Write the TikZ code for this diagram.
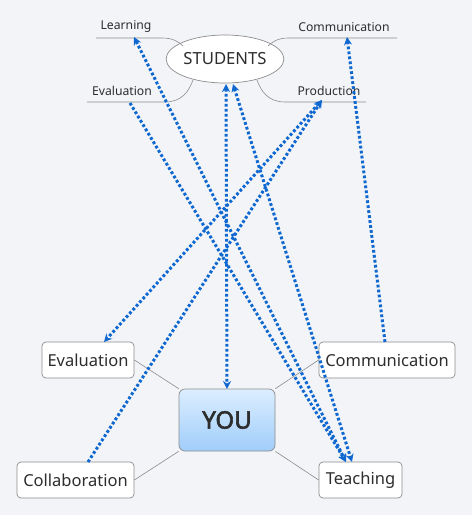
\documentclass[tikz,border=0pt]{standalone}
\usepackage{fontspec}
\setmainfont{Noto Sans}
\newfontfamily\youfont{Noto Sans}[FakeBold=2.4]
\usetikzlibrary{shapes.geometric,arrows.meta}
\definecolor{bg}{RGB}{242,244,248}
\definecolor{rel}{RGB}{14,104,208}
\definecolor{edge}{RGB}{140,140,140}
\definecolor{txt}{RGB}{45,45,45}
\definecolor{youtop}{RGB}{220,238,255}
\definecolor{youbot}{RGB}{160,205,250}
\tikzset{
  topic/.style={draw=edge, line width=0.7pt, fill=white, rounded corners=4pt, minimum height=36pt, inner sep=0pt, text=txt, font=\fontsize{16.5}{19}\selectfont},
  branch/.style={draw=edge, line width=0.6pt},
  lbl/.style={text=txt, font=\fontsize{12.2}{14}\selectfont, inner sep=0pt},
  relation/.style={draw=rel, line width=3pt, dash pattern=on 2.8pt off 2.2pt},
}
\begin{document}
\begin{tikzpicture}[x=1pt,y=-1pt]
\fill[bg] (0,0) rectangle (472,515);
\useasboundingbox (0,0) rectangle (472,515);

% central and main topics
\node[ellipse, draw=edge, line width=0.7pt, fill=white, minimum width=98pt, minimum height=48pt, inner sep=0pt, text=txt, font=\fontsize{16.7}{19}\selectfont] (stu) at (225,59) {STUDENTS};
\node[draw=edge, line width=0.7pt, rounded corners=6pt, top color=youtop, bottom color=youbot, minimum width=96pt, minimum height=62pt, inner sep=0pt, text=txt, font=\youfont\fontsize{24}{28}\selectfont] (you) at (227,420) {YOU};
\node[topic, minimum width=92pt] (eval) at (88,360) {Evaluation};
\node[topic, minimum width=136pt] (comm) at (387,360) {Communication};
\node[topic, minimum width=117pt] (coll) at (75.5,480) {Collaboration};
\node[topic, minimum width=83pt] (teach) at (360.5,480) {Teaching};

% gray connectors
\draw[branch] (eval.east) -- (you.north west);
\draw[branch] (comm.west) -- (you.north east);
\draw[branch] (coll.east) -- (you.south west);
\draw[branch] (teach.west) -- (you.south east);

% STUDENTS subtopics
\node[lbl] (learn) at (126,26) {Learning};
\node[lbl] (scomm) at (344,27) {Communication};
\node[lbl] (seval) at (122,91) {Evaluation};
\node[lbl] (sprod) at (329,91) {Production};
\coordinate (l1) at (96,38);  \coordinate (l2) at (162,38);  \coordinate (l3) at (183,46);
\coordinate (c1) at (397,38); \coordinate (c2) at (288,38);  \coordinate (c3) at (268,46);
\coordinate (e1) at (87,102); \coordinate (e2) at (165,102); \coordinate (e3) at (193,80);
\coordinate (p1) at (366,102);\coordinate (p2) at (285,102); \coordinate (p3) at (257,80);
\draw[branch] (l1) -- (l2) .. controls (172,38) and (178,41) .. (l3);
\draw[branch] (c1) -- (c2) .. controls (278,38) and (272,42) .. (c3);
\draw[branch] (e1) -- (e2) .. controls (182,102) and (189,91) .. (e3);
\draw[branch] (p1) -- (p2) .. controls (268,102) and (261,91) .. (p3);

% relationship end points
\coordinate (learnTip) at (134,37);
\coordinate (scommTip) at (347,37);
\coordinate (sevalEnd) at (130,103);
\coordinate (sprodTip) at (322,100);
\coordinate (stuA) at (226,84);
\coordinate (stuB) at (233,84);
\coordinate (youTop) at (227,389);
\coordinate (evalTop) at (104,342);
\coordinate (commTop) at (385,342);
\coordinate (collTop) at (88,462);
\coordinate (teachA) at (346,462);
\coordinate (teachB) at (352,462);

% dotted relationships
\draw[relation, {Stealth[length=8pt,width=8pt]}-{Stealth[length=8pt,width=8pt]}] (learnTip) -- (teachA);
\draw[relation, -{Stealth[length=8pt,width=8pt]}] (sevalEnd) -- (teachA);
\draw[relation, {Stealth[length=8pt,width=8pt]}-{Stealth[length=8pt,width=8pt]}] (stuA) -- (youTop);
\draw[relation, {Stealth[length=8pt,width=8pt]}-{Stealth[length=8pt,width=8pt]}] (stuB) -- (teachB);
\draw[relation, {Stealth[length=8pt,width=8pt]}-{Stealth[length=8pt,width=8pt]}] (sprodTip) -- (evalTop);
\draw[relation, -{Stealth[length=8pt,width=8pt]}] (collTop) -- (sprodTip);
\draw[relation, -{Stealth[length=8pt,width=8pt]}] (commTop) -- (scommTip);
\end{tikzpicture}
\end{document}
